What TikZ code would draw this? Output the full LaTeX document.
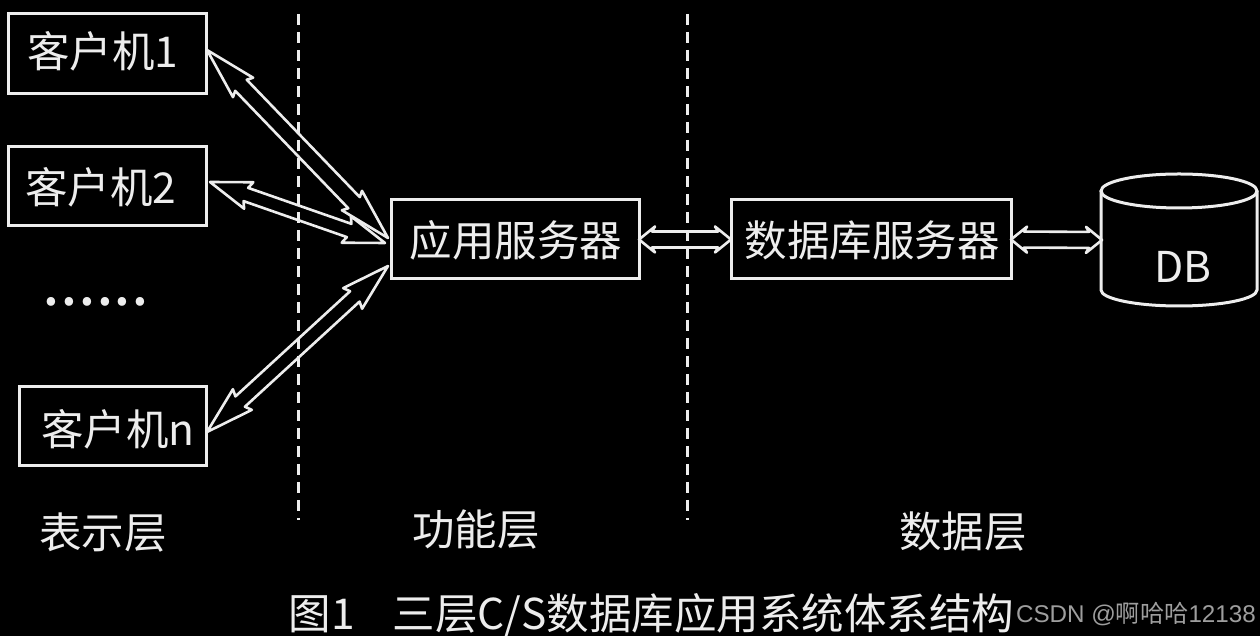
\documentclass[tikz,border=0pt]{standalone}
\usepackage{fontspec}
\usetikzlibrary{calc}
\setmainfont{Noto Sans CJK SC}
\newfontfamily\markfont{Liberation Sans}
\definecolor{lineColor}{gray}{0.93}
\definecolor{markColor}{gray}{0.62}
\tikzset{
  box/.style={draw=lineColor,line width=3pt,text=lineColor,inner sep=0pt,outer sep=0pt,anchor=north west},
  word/.style={text=lineColor,inner sep=0pt,outer sep=0pt,font=\fontsize{42.5}{42.5}\selectfont},
  tier/.style={draw=lineColor,line width=3pt,dash pattern=on 11pt off 7pt},
  twoway/.style n args={3}{draw=lineColor,line width=2.6pt,line join=round,to path={
    -- ($(\tikztostart)!#1!(\tikztotarget)!#2!90:(\tikztotarget)$)
    -- ($(\tikztostart)!#1-3pt!(\tikztotarget)!#3!90:(\tikztotarget)$)
    -- ($(\tikztotarget)!#1-3pt!(\tikztostart)!-#3!90:(\tikztostart)$)
    -- ($(\tikztotarget)!#1!(\tikztostart)!-#2!90:(\tikztostart)$)
    -- (\tikztotarget)
    -- ($(\tikztotarget)!#1!(\tikztostart)!#2!90:(\tikztostart)$)
    -- ($(\tikztotarget)!#1-3pt!(\tikztostart)!#3!90:(\tikztostart)$)
    -- ($(\tikztostart)!#1-3pt!(\tikztotarget)!-#3!90:(\tikztotarget)$)
    -- ($(\tikztostart)!#1!(\tikztotarget)!-#2!90:(\tikztotarget)$)
    -- cycle}},
}

\begin{document}
\begin{tikzpicture}[x=1pt,y=1pt]
\path[use as bounding box,fill=black] (0,0) rectangle (1260,636);

% tier separators
\draw[tier] (298,622) -- (298,116);
\draw[tier] (687,622) -- (687,116);

% boxes
\node[box,minimum width=198pt,minimum height=80pt] (clientA) at (8,622) {};
\node[box,minimum width=198pt,minimum height=79pt] (clientB) at (8,489) {};
\node[box,minimum width=187pt,minimum height=79pt] (clientN) at (19,249) {};
\node[box,minimum width=248pt,minimum height=79pt] (appServer) at (391,436) {};
\node[box,minimum width=280pt,minimum height=79pt] (dbServer) at (731,436) {};

% box texts
\node[word] (textA) at (103,585) {客户机1};
\node[word] (textB) at (101,449) {客户机2};
\node[word] (textN) at (118,207) {客户机n};
\node[word] (textApp) at (516,396) {应用服务器};
\node[word] (textDb) at (872,396) {数据库服务器};

% database
\draw[draw=lineColor,line width=3pt] (1101,445) -- (1101,346)
  arc[start angle=180,end angle=360,x radius=78pt,y radius=16pt] -- (1257,445);
\draw[draw=lineColor,line width=3pt] (1179,445) ellipse[x radius=78pt,y radius=17pt];
\node[word] (textStore) at (1183,369) {DB};

% connectors
\coordinate (linkA) at (207,586);
\coordinate (linkB) at (210,454);
\coordinate (linkN) at (207,204);
\coordinate (appA) at (388,398);
\coordinate (appB) at (385,393);
\coordinate (appN) at (388,370);
\draw[twoway={52pt}{14pt}{8pt}] (linkA) to (appA);
\draw[twoway={41pt}{14pt}{7pt}] (linkB) to (appB);
\draw[twoway={48pt}{14pt}{7pt}] (linkN) to (appN);
\draw[twoway={16pt}{13pt}{8pt}] (appServer.east) to (dbServer.west);
\draw[twoway={16pt}{13pt}{8pt}] (dbServer.east) to (1102,396);

% dots and tier names
\node[word,font=\fontsize{64}{64}\selectfont] (dots) at (96,334) {......};
\node[word] (tierA) at (103,103) {表示层};
\node[word] (tierB) at (476,106) {功能层};
\node[word] (tierC) at (963,104) {数据层};
\node[word] (caption) at (651.5,21) {图1\hspace{0.9em}三层C/S数据库应用系统体系结构};
\node[text=markColor,inner sep=0pt,anchor=east,font=\fontsize{24.2}{24.2}\selectfont] (mark) at (1256,22) {\markfont CSDN @\rmfamily 啊哈哈\markfont 12138};
\end{tikzpicture}
\end{document}
